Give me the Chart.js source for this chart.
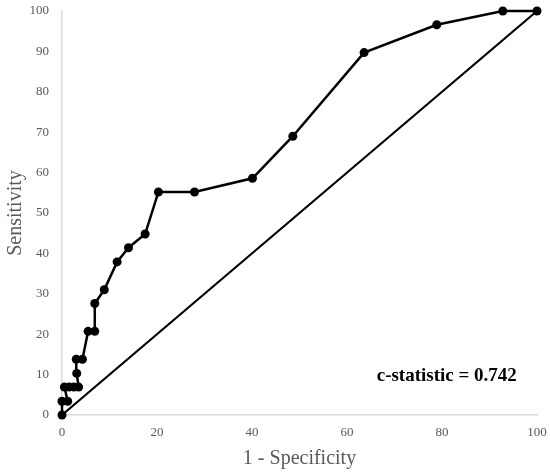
<!DOCTYPE html>
<html>
<head>
<meta charset="utf-8">
<script src="https://cdn.jsdelivr.net/npm/chart.js@4/dist/chart.umd.min.js"></script>
<style>
html,body{margin:0;padding:0;background:#fff;}
#wrap{width:550px;height:475px;position:relative;}
</style>
</head>
<body>
<div id="wrap"><canvas id="c" width="550" height="475"></canvas></div>
<script>
const specificity1 = [0, 0, 1.2, 0.5, 1.5, 2.5, 3.5, 3.1, 3.0, 4.3, 5.5, 6.9, 6.9, 8.9, 11.6, 14.0, 17.5, 20.3, 27.9, 40.1, 48.6, 63.6, 78.9, 92.8, 100];
const sensitivity = [0, 3.4, 3.4, 6.9, 6.9, 6.9, 6.9, 10.3, 13.8, 13.8, 20.7, 20.7, 27.6, 31.0, 37.9, 41.4, 44.8, 55.2, 55.2, 58.6, 69.0, 89.7, 96.6, 100, 100];
const refX = [0, 100];
const refY = [0, 100];
const tickValues = [0, 10, 20, 30, 40, 50, 60, 70, 80, 90, 100];
const xTickValues = [0, 20, 40, 60, 80, 100];
const annotationText = 'c-statistic = 0.742';
const annotationPos = [81, 9.6];

const rocData = specificity1.map((x, i) => ({x: x, y: sensitivity[i]}));
const refData = refX.map((x, i) => ({x: x, y: refY[i]}));

const textPlugin = {
  id: 'cstat',
  afterDatasetsDraw(chart) {
    const {ctx, scales} = chart;
    const px = scales.x.getPixelForValue(annotationPos[0]);
    const py = scales.y.getPixelForValue(annotationPos[1]);
    ctx.save();
    ctx.font = 'bold 19px "Liberation Serif", "Times New Roman", serif';
    ctx.fillStyle = '#000';
    ctx.textAlign = 'center';
    ctx.textBaseline = 'middle';
    ctx.fillText(annotationText, px, py);
    ctx.restore();
  }
};

const tickFont = {family: '"Liberation Serif", "Times New Roman", serif', size: 13};
const titleFont = {family: '"Liberation Serif", "Times New Roman", serif', size: 20};

new Chart(document.getElementById('c'), {
  type: 'scatter',
  data: {
    datasets: [
      {
        data: refData,
        showLine: true,
        clip: false,
        borderColor: '#000',
        borderWidth: 2.2,
        pointRadius: 0,
        pointHoverRadius: 0
      },
      {
        data: rocData,
        showLine: true,
        clip: false,
        borderColor: '#000',
        backgroundColor: '#000',
        borderWidth: 2.5,
        pointRadius: 4.5,
        pointBackgroundColor: '#000',
        pointBorderColor: '#000',
        pointBorderWidth: 0
      }
    ]
  },
  options: {
    responsive: false,
    animation: false,
    devicePixelRatio: 1,
    layout: {padding: {top: 11, right: 13, left: 0, bottom: 0}},
    plugins: {legend: {display: false}, tooltip: {enabled: false}},
    scales: {
      x: {
        type: 'linear',
        min: 0, max: 100,
        afterBuildTicks(axis) { axis.ticks = xTickValues.map(v => ({value: v})); },
        afterFit(axis) { axis.height = 60; axis.paddingLeft = 0; axis.paddingRight = 0; },
        grid: {display: false, drawTicks: false},
        border: {display: true, color: '#d9d9d9', width: 1.5},
        ticks: {color: '#595959', font: tickFont, padding: 10, maxRotation: 0},
        title: {display: true, text: '1 - Specificity', color: '#595959', font: titleFont, padding: {top: 0}}
      },
      y: {
        type: 'linear',
        min: 0, max: 100,
        afterBuildTicks(axis) { axis.ticks = tickValues.map(v => ({value: v})); },
        afterFit(axis) { axis.width = 62; axis.paddingTop = 0; axis.paddingBottom = 0; },
        grid: {display: false, drawTicks: false},
        border: {display: true, color: '#d9d9d9', width: 1.5},
        ticks: {color: '#595959', font: tickFont, padding: 13},
        title: {display: true, text: 'Sensitivity', color: '#595959', font: titleFont, padding: {bottom: 3}}
      }
    }
  },
  plugins: [textPlugin]
});
</script>
</body>
</html>
